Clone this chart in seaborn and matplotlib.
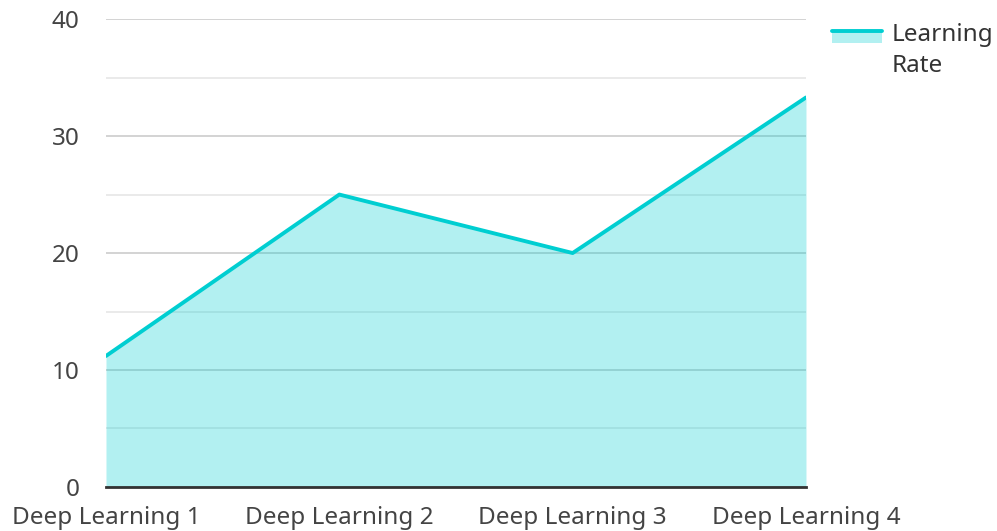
import matplotlib
matplotlib.use("Agg")
import matplotlib.pyplot as plt
import seaborn as sns
import pandas as pd
from matplotlib.patches import Rectangle
from matplotlib.lines import Line2D
from matplotlib.ticker import MultipleLocator

# chart data
categories = ["Deep Learning 1", "Deep Learning 2", "Deep Learning 3", "Deep Learning 4"]
learning_rate = [11.2, 25, 20, 33.3]
series_name = "Learning\nRate"

LINE = "#00CED1"
FILL = "#00CED1"
FS = 17.5

sns.set_theme(style="white")
plt.rcParams["font.family"] = ["Noto Sans", "DejaVu Sans"]

df = pd.DataFrame({"cat": categories, "val": learning_rate})
df["pos"] = range(len(df))

fig = plt.figure(figsize=(9.97, 5.31), dpi=100)
ax = fig.add_axes([0.1063, 0.0829, 0.7021, 0.8811])

ax.fill_between(df["pos"], df["val"], 0, color=FILL, alpha=0.30, linewidth=0, zorder=2)
sns.lineplot(data=df, x="pos", y="val", ax=ax, color=LINE, linewidth=2.8, zorder=3,
             legend=False)

ax.set_xlim(0, len(categories) - 1)
ax.set_ylim(0, 40)
ax.set_xticks(df["pos"])
ax.set_xticklabels(categories)
ax.yaxis.set_major_locator(MultipleLocator(10))
ax.yaxis.set_minor_locator(MultipleLocator(5))
ax.grid(which="major", axis="y", color="#cccccc", linewidth=1.2, zorder=1)
ax.grid(which="minor", axis="y", color="#e6e6e6", linewidth=1.2, zorder=1)
ax.set_axisbelow(True)

for s in ["top", "right", "left"]:
    ax.spines[s].set_visible(False)
ax.spines["bottom"].set_color("#333333")
ax.spines["bottom"].set_linewidth(2)
ax.spines["bottom"].set_zorder(4)

ax.tick_params(axis="both", which="both", length=0, labelsize=FS, colors="#444444")
ax.tick_params(axis="y", pad=19)
ax.tick_params(axis="x", pad=13.5)
ax.set_xlabel("")
ax.set_ylabel("")

# legend: teal line over a light area swatch, label wrapped on two lines
H = 531.0
W = 997.0
fig.add_artist(Rectangle((832 / W, 1 - 43 / H), 50 / W, 12 / H, transform=fig.transFigure,
                         facecolor=FILL, alpha=0.30, linewidth=0))
fig.add_artist(Line2D([832 / W, 882 / W], [1 - 31 / H, 1 - 31 / H], transform=fig.transFigure,
                      color=LINE, linewidth=2.8))
fig.text(892 / W, 1 - 72 / H, series_name, fontsize=FS, color="#333333",
         ha="left", va="baseline", linespacing=1.38)

fig.savefig("out.png", dpi=100)
